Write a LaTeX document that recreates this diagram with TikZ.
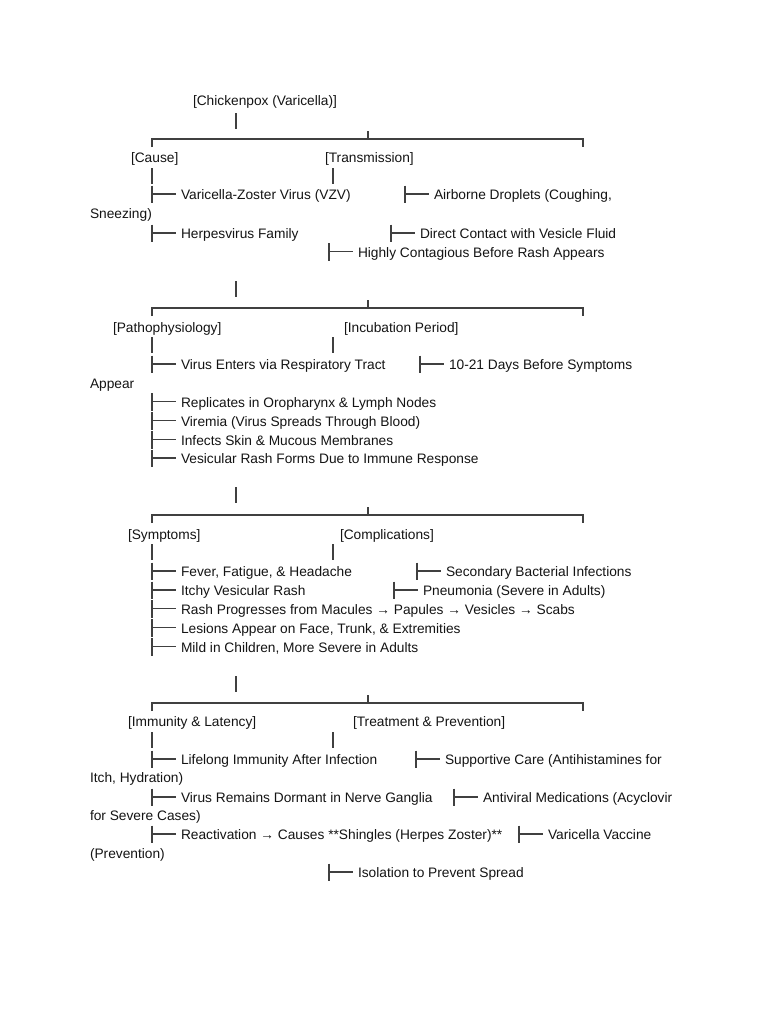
\documentclass[tikz,border=0pt]{standalone}
\usepackage{fontspec}
\setmainfont{Liberation Sans}
\definecolor{linec}{gray}{0.25}
\definecolor{txtc}{gray}{0.08}
\tikzset{
  treeline/.style={draw=linec, line width=0.95pt},
  txt/.style={anchor=base west, inner sep=0pt, outer sep=0pt, yshift=-0.75pt, text=txtc, font=\fontsize{10.3pt}{12pt}\selectfont},
}
\newcommand{\brn}[4]{%
  \draw[treeline] (#2,#3-8.5) -- (#2,#3+9) (#2,#3) -- (#2+24,#3);
  \node[txt] (#1) at (#2+29,#3+4.5) {#4};}
\newcommand{\vbar}[2]{\draw[treeline] (#1,#2-8) -- (#1,#2+8);}
\newcommand{\brk}[1]{%
  \draw[treeline] (152,#1+8) -- (152,#1) -- (583,#1) -- (583,#1+8);
  \draw[treeline] (368,#1) -- (368,#1-8);}
\begin{document}
\begin{tikzpicture}[x=0.75pt,y=-0.75pt]
\useasboundingbox[fill=white] (0,0) rectangle (768,1024);
% Section 1
\node[txt] (root) at (193,104.5) {[Chickenpox (Varicella)]};
\draw[treeline] (236,113) -- (236,129);
\brk{139}
\node[txt] (cause) at (131,161.5) {[Cause]};
\node[txt] (trans) at (325,161.5) {[Transmission]};
\vbar{152}{176}
\vbar{333}{176}
\brn{c1}{152}{194}{Varicella-Zoster Virus (VZV)}
\brn{t1}{405}{194}{Airborne Droplets (Coughing,}
\node[txt] (t1b) at (90,217.5) {Sneezing)};
\brn{c2}{152}{233}{Herpesvirus Family}
\brn{t2}{391}{233}{Direct Contact with Vesicle Fluid}
\brn{t3}{329}{251.5}{Highly Contagious Before Rash Appears}
% Section 2
\draw[treeline] (236,281) -- (236,297);
\brk{308}
\node[txt] (patho) at (113,331.5) {[Pathophysiology]};
\node[txt] (incub) at (344,331.5) {[Incubation Period]};
\vbar{152}{345}
\vbar{333}{345}
\brn{p1}{152}{364}{Virus Enters via Respiratory Tract}
\brn{i1}{420}{364}{10-21 Days Before Symptoms}
\node[txt] (i1b) at (90,387.5) {Appear};
\brn{p2}{152}{401.5}{Replicates in Oropharynx \& Lymph Nodes}
\brn{p3}{152}{420.5}{Viremia (Virus Spreads Through Blood)}
\brn{p4}{152}{439.5}{Infects Skin \& Mucous Membranes}
\brn{p5}{152}{458}{Vesicular Rash Forms Due to Immune Response}
% Section 3
\draw[treeline] (236,487) -- (236,503);
\brk{515}
\node[txt] (sympt) at (128,538.5) {[Symptoms]};
\node[txt] (compl) at (340,538.5) {[Complications]};
\vbar{152}{552}
\vbar{333}{552}
\brn{s1}{152}{571}{Fever, Fatigue, \& Headache}
\brn{k1}{417}{571}{Secondary Bacterial Infections}
\brn{s2}{152}{590}{Itchy Vesicular Rash}
\brn{k2}{394}{590}{Pneumonia (Severe in Adults)}
\brn{s3}{152}{608.5}{Rash Progresses from Macules → Papules → Vesicles → Scabs}
\brn{s4}{152}{627.5}{Lesions Appear on Face, Trunk, \& Extremities}
\brn{s5}{152}{646.5}{Mild in Children, More Severe in Adults}
% Section 4
\draw[treeline] (236,676) -- (236,692);
\brk{703}
\node[txt] (immun) at (128,725.5) {[Immunity \& Latency]};
\node[txt] (treat) at (353,725.5) {[Treatment \& Prevention]};
\vbar{152}{740}
\vbar{333}{740}
\brn{m1}{152}{759}{Lifelong Immunity After Infection}
\brn{r1}{416}{759}{Supportive Care (Antihistamines for}
\node[txt] (r1b) at (90,781.5) {Itch, Hydration)};
\brn{m2}{152}{797}{Virus Remains Dormant in Nerve Ganglia}
\brn{r2}{454}{797}{Antiviral Medications (Acyclovir}
\node[txt] (r2b) at (90,819.5) {for Severe Cases)};
\brn{m3}{152}{834}{Reactivation → Causes **Shingles (Herpes Zoster)**}
\brn{r3}{519}{834}{Varicella Vaccine}
\node[txt] (r3b) at (90,857.5) {(Prevention)};
\brn{r4}{329}{872}{Isolation to Prevent Spread}
\end{tikzpicture}
\end{document}
